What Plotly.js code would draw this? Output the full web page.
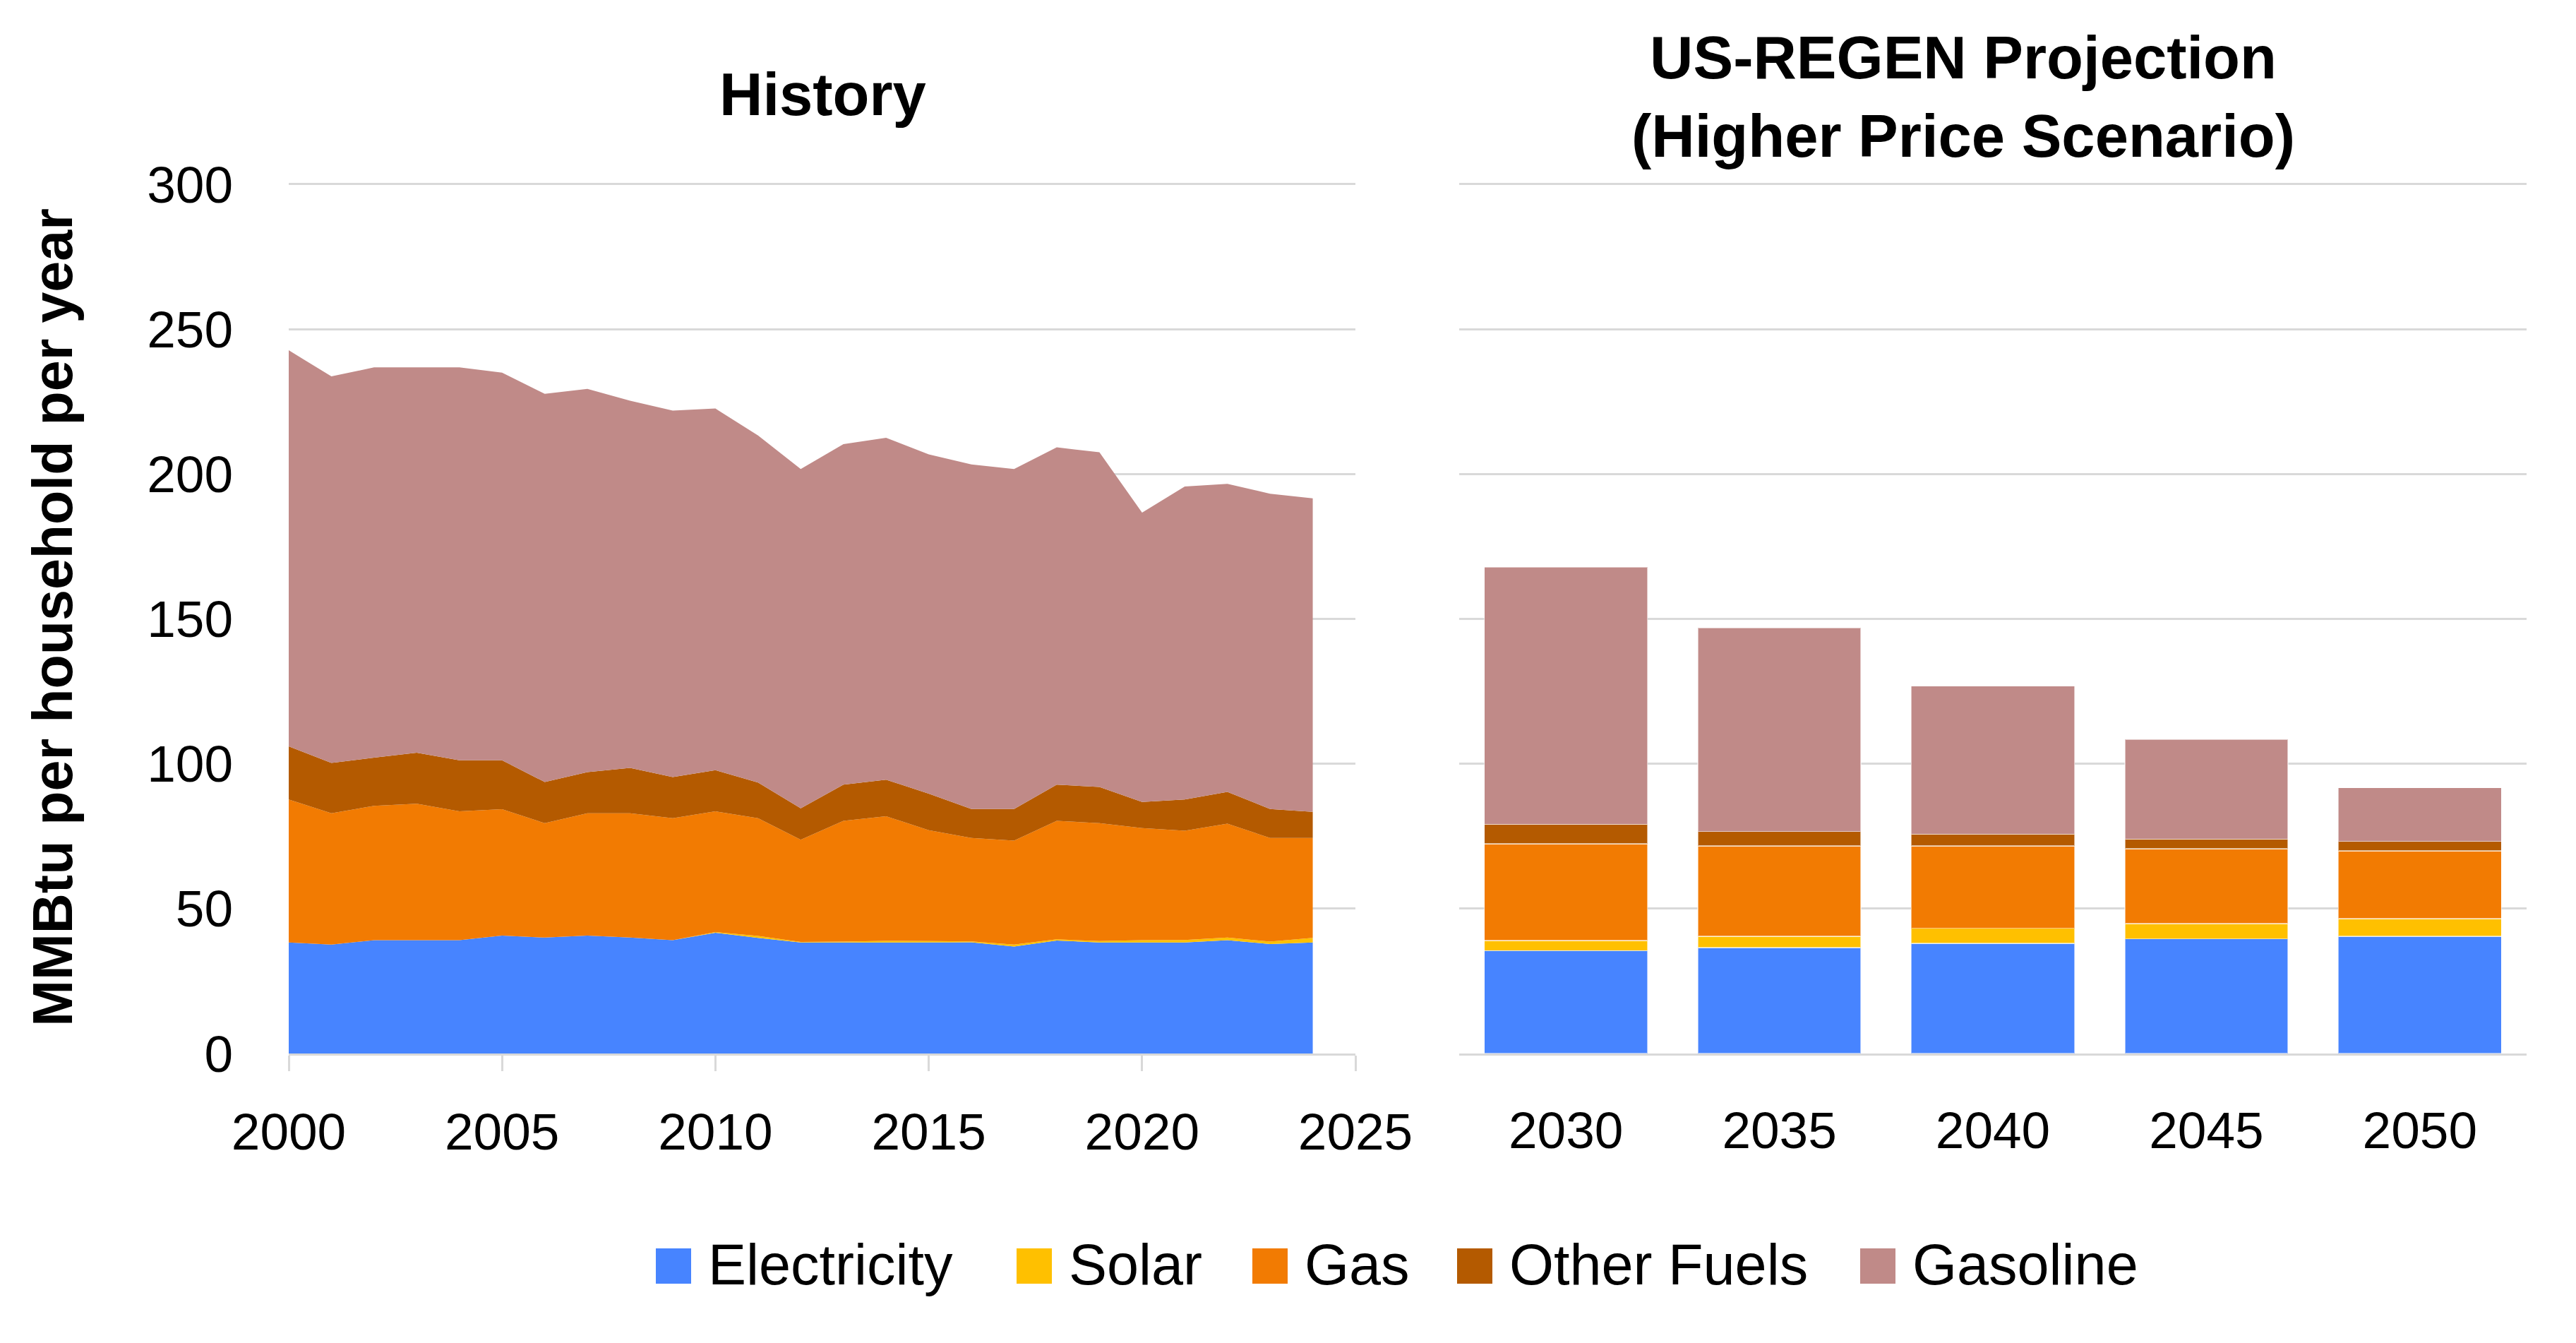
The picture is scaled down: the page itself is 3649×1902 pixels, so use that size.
<!DOCTYPE html>
<html>
<head>
<meta charset="utf-8">
<script src="https://cdn.plot.ly/plotly-3.0.1.min.js"></script>
<style>html,body{margin:0;padding:0;background:#fff;}#chart{width:3649px;height:1902px;}</style>
</head>
<body>
<div id="chart"></div>
<script>
// ---- Data ----
const seriesNames = ["Electricity", "Solar", "Gas", "Other Fuels", "Gasoline"];
const seriesColors = ["#4784FF", "#FFC000", "#F27B02", "#B45A00", "#C08A88"];

const histYears = [2000, 2001, 2002, 2003, 2004, 2005, 2006, 2007, 2008, 2009, 2010, 2011, 2012,
                   2013, 2014, 2015, 2016, 2017, 2018, 2019, 2020, 2021, 2022, 2023, 2024];
const histElectricity = [38.3, 37.6, 39.1, 39.1, 39.1, 40.7, 40.0, 40.7, 40.0, 39.1, 41.7, 39.9, 38.3,
                         38.3, 38.3, 38.4, 38.4, 36.9, 39.0, 38.3, 38.3, 38.3, 39.1, 37.8, 38.3];
const histSolar = [0, 0, 0, 0, 0, 0, 0, 0, 0, 0, 0.2, 0.7, 0.2,
                   0.3, 0.6, 0.4, 0.3, 0.7, 0.4, 0.5, 0.8, 0.9, 0.9, 0.8, 1.6];
const histGas = [49.4, 45.3, 46.4, 47.1, 44.5, 43.6, 39.5, 42.2, 42.9, 42.1, 41.7, 40.6, 35.3,
                 41.7, 43.0, 38.3, 35.7, 35.9, 40.9, 40.7, 38.7, 37.7, 39.3, 35.8, 34.5];
const histOther = [18.3, 17.4, 16.6, 17.6, 17.6, 16.9, 14.2, 14.2, 15.7, 14.2, 14.2, 12.3, 10.8,
                   12.5, 12.6, 12.6, 10.0, 10.9, 12.5, 12.5, 9.0, 10.8, 11.0, 10.0, 9.0];
const histGasoline = [136.7, 133.4, 134.7, 133.0, 135.6, 133.8, 134.0, 132.3, 126.7, 126.5, 124.8, 119.8, 117.1,
                      117.5, 118.0, 117.1, 118.9, 117.3, 116.4, 115.5, 99.9, 108.0, 106.3, 108.8, 108.2];

const projYears = ["2030", "2035", "2040", "2045", "2050"];
const projElectricity = [35.5, 36.5, 38.0, 39.6, 40.5];
const projSolar = [3.5, 4.0, 5.2, 5.3, 6.0];
const projGas = [33.4, 31.1, 28.4, 25.8, 23.5];
const projOther = [6.7, 5.0, 4.1, 3.3, 3.2];
const projGasoline = [88.8, 70.4, 51.1, 34.4, 18.5];

const histTickVals = [2000, 2005, 2010, 2015, 2020, 2025];
const yTickVals = [0, 50, 100, 150, 200, 250, 300];

const leftTitle = "History";
const rightTitle = "US-REGEN Projection<br>(Higher Price Scenario)";
const yTitle = "MMBtu per household per year";

// ---- Build ----
const W = 3649, H = 1902;
const px = x => x / W;
const py = y => 1 - y / H;
const FONT = "Liberation Sans, Arial, sans-serif";
const GRID = "#D9D9D9";
const Y_MAX = 301;                       // a hair above 300 so the 300 gridline is drawn
const PX_PER_UNIT = (1492 - 261) / 300;  // vertical scale measured on the reference
const yTopPx = 1492 - Y_MAX * PX_PER_UNIT;

const histSeries = [histElectricity, histSolar, histGas, histOther, histGasoline];
const projSeries = [projElectricity, projSolar, projGas, projOther, projGasoline];

const traces = [];
histSeries.forEach((vals, i) => {
  traces.push({
    type: "scatter", mode: "lines", x: histYears, y: vals,
    stackgroup: "hist", name: seriesNames[i],
    line: {width: 0, color: seriesColors[i]}, fillcolor: seriesColors[i],
    xaxis: "x", yaxis: "y", showlegend: false, hoverinfo: "skip"
  });
});
projSeries.forEach((vals, i) => {
  traces.push({
    type: "bar", x: projYears, y: vals, name: seriesNames[i],
    marker: {color: seriesColors[i], line: {width: 1.5, color: "rgba(255,255,255,0.55)"}},
    xaxis: "x2", yaxis: "y2", showlegend: false, hoverinfo: "skip"
  });
});

// manual legend with large square swatches
const legendSwatchX = [929, 1440, 1774, 2064, 2635];
const legendY = 1793;
const shapes = [];
const annotations = [];
seriesNames.forEach((n, i) => {
  shapes.push({type: "rect", xref: "paper", yref: "paper",
    x0: px(legendSwatchX[i]), x1: px(legendSwatchX[i] + 50),
    y0: py(legendY + 25), y1: py(legendY - 25),
    fillcolor: seriesColors[i], line: {width: 0}});
  annotations.push({xref: "paper", yref: "paper", x: px(legendSwatchX[i] + 72), y: py(legendY - 2),
    xanchor: "left", yanchor: "middle", showarrow: false, text: n,
    font: {family: FONT, size: 81, color: "#000"}});
});
annotations.push({xref: "paper", yref: "paper", x: px(1165), y: py(133), xanchor: "center", yanchor: "middle",
  showarrow: false, text: "<b>" + leftTitle + "</b>", font: {family: FONT, size: 85, color: "#000"}});
annotations.push({xref: "paper", yref: "paper", x: px(2781), y: py(137), xanchor: "center", yanchor: "middle",
  showarrow: false, text: "<b>" + rightTitle.replace("<br>", "</b><br><b>") + "</b>",
  font: {family: FONT, size: 85, color: "#000"}});

const layout = {
  width: W, height: H,
  margin: {l: 0, r: 0, t: 0, b: 0},
  paper_bgcolor: "#fff", plot_bgcolor: "#fff",
  font: {family: FONT, color: "#000"},
  showlegend: false,
  barmode: "stack", bargap: 0.236,
  xaxis: {
    domain: [px(409), px(1920)], range: [2000, 2025], type: "linear",
    tickvals: histTickVals, ticks: "outside", ticklen: 22, tickwidth: 3, tickcolor: GRID,
    showline: true, linecolor: GRID, linewidth: 3, showgrid: false, zeroline: false,
    tickfont: {family: FONT, size: 73, color: "#000"}, ticklabelstandoff: 23, anchor: "y"
  },
  yaxis: {
    domain: [py(1492), py(yTopPx)], range: [0, Y_MAX], tickvals: yTickVals,
    showgrid: true, gridcolor: GRID, gridwidth: 3, zeroline: false, showline: false, ticks: "",
    tickfont: {family: FONT, size: 73, color: "#000"}, ticklabelstandoff: 78, anchor: "x",
    title: {text: "<b>" + yTitle + "</b>", font: {family: FONT, size: 79, color: "#000"}, standoff: 79}
  },
  xaxis2: {
    domain: [px(2067), px(3579)], type: "category", anchor: "y2",
    showline: true, linecolor: GRID, linewidth: 3, ticks: "", showgrid: false,
    tickfont: {family: FONT, size: 73, color: "#000"}, ticklabelstandoff: 43
  },
  yaxis2: {
    domain: [py(1492), py(yTopPx)], range: [0, Y_MAX], tickvals: yTickVals, anchor: "x2",
    showgrid: true, gridcolor: GRID, gridwidth: 3, zeroline: false, showline: false,
    showticklabels: false, ticks: ""
  },
  shapes: shapes,
  annotations: annotations
};

Plotly.newPlot("chart", traces, layout, {staticPlot: true, displayModeBar: false});
</script>
</body>
</html>
